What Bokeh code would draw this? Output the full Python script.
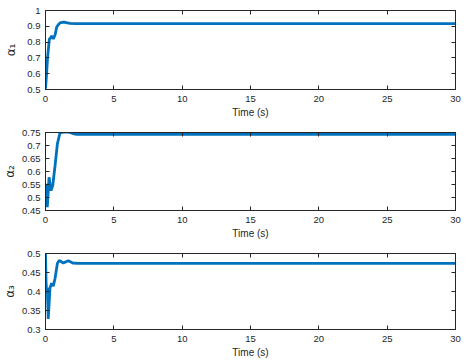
from bokeh.plotting import figure
from bokeh.layouts import column
from bokeh.models import Range1d, LinearAxis, FixedTicker
from bokeh.embed import file_html
from bokeh.resources import INLINE

# ---- data ----
t1 = [0, 0.08, 0.15, 0.28, 0.36, 0.45, 0.57, 0.7, 0.82, 0.95, 1.06, 1.3, 1.5, 1.8, 2.2, 30]
a1 = [0.505, 0.60, 0.70, 0.819, 0.825, 0.84, 0.82, 0.845, 0.895, 0.912, 0.921, 0.926, 0.924, 0.919, 0.917, 0.917]

t2 = [0, 0.04, 0.13, 0.26, 0.4, 0.53, 0.7, 0.87, 1.06, 1.4, 1.67, 2.0, 2.3, 30]
a2 = [0.514, 0.553, 0.463, 0.578, 0.527, 0.546, 0.623, 0.706, 0.749, 0.752, 0.752, 0.746, 0.743, 0.743]

t3 = [0, 0.04, 0.09, 0.13, 0.2, 0.33, 0.45, 0.57, 0.7, 0.87, 1.0, 1.3, 1.67, 2.0, 2.4, 30]
a3 = [0.499, 0.426, 0.392, 0.41, 0.328, 0.41, 0.422, 0.414, 0.435, 0.474, 0.482, 0.475, 0.481, 0.475, 0.474, 0.474]

x_ticks = [0, 5, 10, 15, 20, 25, 30]
y1_ticks = [0.5, 0.6, 0.7, 0.8, 0.9, 1.0]
y1_labels = ["0.5", "0.6", "0.7", "0.8", "0.9", "1"]
y2_ticks = [0.45, 0.5, 0.55, 0.6, 0.65, 0.7, 0.75]
y2_labels = ["0.45", "0.5", "0.55", "0.6", "0.65", "0.7", "0.75"]
y3_ticks = [0.3, 0.35, 0.4, 0.45, 0.5]
y3_labels = ["0.3", "0.35", "0.4", "0.45", "0.5"]

ylabels = ["α₁", "α₂", "α₃"]
xlabel = "Time (s)"

FONT = "Liberation Sans"
AX = "#262626"
LINE = "#0072BD"


def style_axis(ax, show_labels=True):
    ax.major_tick_in = 4
    ax.major_tick_out = 0
    ax.minor_tick_line_color = None
    ax.axis_line_color = AX
    ax.major_tick_line_color = AX
    ax.major_label_text_font = FONT
    ax.axis_label_text_font = FONT
    ax.axis_label_text_font_size = "10px"
    ax.axis_label_text_font_style = "normal"
    ax.axis_label_text_color = AX
    ax.axis_label_standoff = 2
    if show_labels:
        ax.major_label_text_color = AX
        ax.major_label_text_font_size = "9.5px"
        ax.major_label_standoff = 5
    else:
        ax.major_label_text_color = None
        ax.major_label_text_font_size = "1px"
        ax.major_label_standoff = 0


def make(t, a, yr, yt, yl, ylab, height, top, bottom, ylab_standoff):
    p = figure(width=466, height=height, output_backend="svg", toolbar_location=None,
               x_range=Range1d(0, 30), y_range=Range1d(*yr),
               min_border_left=45, min_border_right=11,
               min_border_top=top, min_border_bottom=bottom)
    p.xgrid.visible = False
    p.ygrid.visible = False
    p.outline_line_color = AX
    p.background_fill_color = "white"
    p.border_fill_color = "white"
    p.line(t, a, line_color=LINE, line_width=2.8)

    p.xaxis.ticker = FixedTicker(ticks=x_ticks)
    p.yaxis.ticker = FixedTicker(ticks=yt)
    p.yaxis.major_label_overrides = {v: s for v, s in zip(yt, yl)}
    p.xaxis.axis_label = xlabel
    p.yaxis.axis_label = ylab
    style_axis(p.xaxis[0])
    style_axis(p.yaxis[0])
    p.xaxis.major_label_standoff = 6
    p.yaxis.axis_label_text_font = "DejaVu Sans"
    p.yaxis.axis_label_text_font_size = "12px"
    p.yaxis.axis_label_standoff = ylab_standoff

    r = LinearAxis(ticker=FixedTicker(ticks=yt))
    style_axis(r, False)
    p.add_layout(r, "right")
    tp = LinearAxis(ticker=FixedTicker(ticks=x_ticks))
    style_axis(tp, False)
    p.add_layout(tp, "above")
    return p


p1 = make(t1, a1, (0.5, 1.0), y1_ticks, y1_labels, ylabels[0], 121, 10, 32, 6)
p2 = make(t2, a2, (0.45, 0.75), y2_ticks, y2_labels, ylabels[1], 121, 11, 32, 2)
p3 = make(t3, a3, (0.3, 0.5), y3_ticks, y3_labels, ylabels[2], 118, 11, 30, 2)

layout = column(p1, p2, p3, spacing=0)
open("out.html", "w").write(file_html(layout, INLINE))
